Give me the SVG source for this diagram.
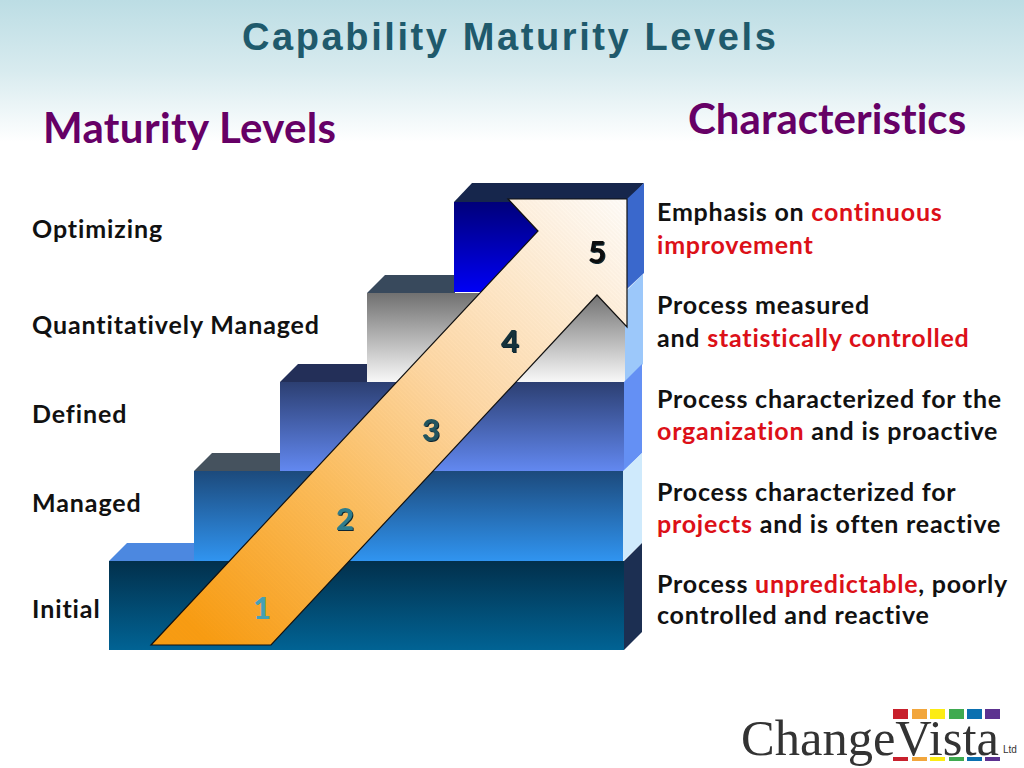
<svg xmlns="http://www.w3.org/2000/svg" width="1024" height="768" viewBox="0 0 1024 768">
<style>
.t{font-family:"Lato","Open Sans","Liberation Sans",sans-serif;font-weight:700;font-size:25px;fill:#111;letter-spacing:.78px}
.l{letter-spacing:.9px}
.r{fill:#dc1018}
.h{font-family:"Lato","Open Sans","Liberation Sans",sans-serif;font-weight:700;font-size:42px;fill:#660066}
.n{font-family:"Lato","Open Sans","Liberation Sans",sans-serif;font-weight:900;font-size:31px;text-anchor:middle}
.s{filter:url(#sh)}
</style>
<defs>
<filter id="sh" x="-30%" y="-30%" width="170%" height="170%"><feDropShadow dx="1" dy="1" stdDeviation=".3" flood-color="#0c2830"/></filter>
<linearGradient id="bg" x1="0" y1="0" x2="0" y2="1"><stop offset="0" stop-color="#bcdde4"/><stop offset=".5" stop-color="#d8ebef"/><stop offset="1" stop-color="#fff"/></linearGradient>
<linearGradient id="g1" x1="0" y1="0" x2="0" y2="1"><stop offset="0" stop-color="#02304c"/><stop offset="1" stop-color="#016394"/></linearGradient>
<linearGradient id="g2" x1="0" y1="0" x2="0" y2="1"><stop offset="0" stop-color="#1c4a7c"/><stop offset="1" stop-color="#3094f0"/></linearGradient>
<linearGradient id="g3" x1="0" y1="0" x2="0" y2="1"><stop offset="0" stop-color="#2c3f72"/><stop offset="1" stop-color="#6288f0"/></linearGradient>
<linearGradient id="g4" x1="0" y1="0" x2="0" y2="1"><stop offset="0" stop-color="#707070"/><stop offset="1" stop-color="#f8f8f8"/></linearGradient>
<linearGradient id="g5" x1="0" y1="0" x2="0" y2="1"><stop offset="0" stop-color="#00007a"/><stop offset="1" stop-color="#0000f5"/></linearGradient>
<linearGradient id="ar" gradientUnits="userSpaceOnUse" x1="211" y1="645" x2="627" y2="199"><stop offset="0" stop-color="#f99c12"/><stop offset=".3" stop-color="#fcbb58"/><stop offset=".58" stop-color="#fed8a6"/><stop offset="1" stop-color="#fffdfb"/></linearGradient>
<pattern id="hatch" width="3" height="3" patternUnits="userSpaceOnUse" patternTransform="rotate(45)"><line x1="0" y1="1" x2="3" y2="1" stroke="#8a5a30" stroke-opacity=".05" stroke-width="1"/></pattern>
</defs>
<rect id="background" width="1024" height="142" fill="url(#bg)"/>
<text id="title" x="242" y="50" font-family="Liberation Sans, Arial, sans-serif" font-weight="700" font-size="38" letter-spacing="2.6" fill="#1f5a6c">Capability Maturity Levels</text>
<text id="heading-left" class="h" x="43" y="143" letter-spacing=".35">Maturity Levels</text>
<text id="heading-right" class="h" x="688" y="134" letter-spacing=".05">Characteristics</text>

<g id="step-4">
<polygon points="367,293 385,275 455,275 455,293" fill="#38495c"/>
<polygon points="625,292 643,274 643,364 625,382" fill="#9cc8fa"/>
<rect x="367" y="293" width="258" height="89" fill="url(#g4)"/>
</g>
<g id="step-5">
<polygon points="454,202 472,183 644,183 627,202" fill="#16264c"/>
<polygon points="627,199 644,183 644,273 627,289" fill="#3a68cc"/>
<rect x="454" y="202" width="173" height="90" fill="url(#g5)"/>
</g>
<g id="step-3">
<polygon points="280,382 298,364 367,364 367,382" fill="#232f58"/>
<polygon points="624,382 642,364 642,453 624,471" fill="#6490f4"/>
<rect x="280" y="382" width="344" height="89" fill="url(#g3)"/>
</g>
<g id="step-2">
<polygon points="194,471 212,453 280,453 280,471" fill="#45525e"/>
<polygon points="623,471 642,453 642,543 623,561" fill="#cfeafc"/>
<rect x="194" y="471" width="429" height="90" fill="url(#g2)"/>
</g>
<g id="step-1">
<polygon points="109,561 127,543 194,543 194,561" fill="#4c88e0"/>
<polygon points="624,561 642,543 642,632 624,650" fill="#1c2f52"/>
<rect x="109" y="561" width="515" height="89" fill="url(#g1)"/>
</g>
<g id="connectors">
<polygon id="arrow" points="151,645 271,645 597,295 627,327 627,199 508,199 538,231" fill="url(#ar)"/>
<polygon id="arrow-hatch" points="151,645 271,645 597,295 627,327 627,199 508,199 538,231" fill="url(#hatch)" stroke="#111" stroke-width="1.2"/>
</g>
<g id="arrow-numbers">
<text class="n" x="262" y="619" fill="#46a0b4">1</text>
<text class="n s" x="345" y="530" fill="#2e7c8c">2</text>
<text class="n s" x="431" y="441" fill="#24555f">3</text>
<text class="n s" x="510" y="352" fill="#14303a">4</text>
<text class="n s" x="597" y="263" fill="#111">5</text>
</g>
<g id="levels">
<text class="t l" x="32" y="238">Optimizing</text>
<text class="t l" x="32" y="334">Quantitatively Managed</text>
<text class="t l" x="32" y="423">Defined</text>
<text class="t l" x="32" y="512">Managed</text>
<text class="t l" x="32" y="618">Initial</text>
</g>
<g id="characteristics">
<text class="t" x="657" y="221">Emphasis on <tspan class="r">continuous</tspan></text>
<text class="t" x="657" y="254"><tspan class="r">improvement</tspan></text>
<text class="t" x="657" y="314">Process measured</text>
<text class="t" x="657" y="347">and <tspan class="r">statistically controlled</tspan></text>
<text class="t" x="657" y="408">Process characterized for the</text>
<text class="t" x="657" y="440"><tspan class="r">organization</tspan> and is proactive</text>
<text class="t" x="657" y="501">Process characterized for</text>
<text class="t" x="657" y="533"><tspan class="r">projects</tspan> and is often reactive</text>
<text class="t" x="657" y="593">Process <tspan class="r">unpredictable</tspan>, poorly</text>
<text class="t" x="657" y="624">controlled and reactive</text>
</g>
<g id="logo">
<rect x="893" y="709" width="15" height="10" fill="#c8202c"/><rect x="912" y="709" width="15" height="10" fill="#f2a63c"/><rect x="930" y="709" width="15" height="10" fill="#fcec14"/><rect x="949" y="709" width="15" height="10" fill="#3faa50"/><rect x="967" y="709" width="15" height="10" fill="#0a70b0"/><rect x="985" y="709" width="15" height="10" fill="#5c3290"/>
<rect x="893" y="757" width="15" height="4" fill="#c8202c"/><rect x="912" y="757" width="15" height="4" fill="#f2a63c"/><rect x="930" y="757" width="15" height="4" fill="#fcec14"/><rect x="949" y="757" width="15" height="4" fill="#3faa50"/><rect x="967" y="757" width="15" height="4" fill="#0a70b0"/><rect x="985" y="757" width="15" height="4" fill="#5c3290"/>
<text x="741" y="755" font-family="Liberation Serif, Times New Roman, serif" font-size="50" fill="#333" textLength="258" lengthAdjust="spacingAndGlyphs">ChangeVista</text>
<text x="1003" y="753" font-family="Liberation Sans, Arial, sans-serif" font-size="10" fill="#333">Ltd</text>
</g>
</svg>
